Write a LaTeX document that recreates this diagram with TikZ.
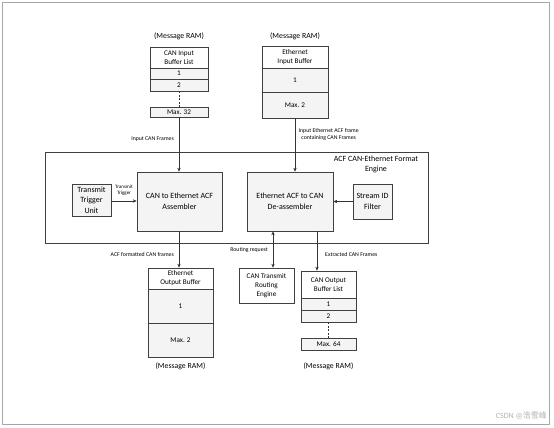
\documentclass[tikz,border=0pt]{standalone}
\usepackage{fontspec}
\setmainfont{Carlito}
\newfontfamily\cjk{Noto Sans CJK SC}
\usetikzlibrary{arrows.meta}
\tikzset{
  bx/.style={draw=black!75, line width=0.6pt, inner sep=0pt, align=center, font=\fontsize{7.2}{9}\selectfont},
  gbx/.style={bx, fill=gray!9},
  wbx/.style={bx, fill=white},
  big/.style={font=\fontsize{8}{10.5}\selectfont},
  lbl/.style={inner sep=0pt, font=\fontsize{5.8}{6.8}\selectfont},
  ram/.style={inner sep=0pt, font=\fontsize{7.8}{9}\selectfont},
  arr/.style={draw=black!80, line width=0.6pt, -{Stealth[length=4pt,width=3.4pt]}},
  darr/.style={draw=black!80, line width=0.6pt, {Stealth[length=4pt,width=3.4pt]}-{Stealth[length=4pt,width=3.4pt]}},
  ln/.style={draw=black!80, line width=0.6pt},
}
\begin{document}
\begin{tikzpicture}[x=1pt,y=-1pt]
\useasboundingbox (0,0) rectangle (554,428);
\draw[gray!70, line width=0.9pt] (2,2) rectangle (549,424);

% CAN Input Buffer List
\node[ram] (ram1) at (179,36) {(Message RAM)};
\node[wbx, minimum width=58, minimum height=21] (cib) at (179,57.5) {CAN Input\\Buffer List};
\node[gbx, minimum width=58, minimum height=11] (cib1) at (179,73.5) {1};
\node[gbx, minimum width=58, minimum height=12] (cib2) at (179,85) {2};
\node[gbx, minimum width=58, minimum height=10] (cibm) at (179,112) {Max. 32};
\draw[ln, dashed, dash pattern=on 2pt off 1.5pt] (cib2.south) -- (cibm.north);

% Ethernet Input Buffer
\node[ram] (ram2) at (295,36) {(Message RAM)};
\node[wbx, minimum width=66, minimum height=22] (eib) at (295,57) {Ethernet\\Input Buffer};
\node[gbx, minimum width=66, minimum height=24] (eib1) at (295,80) {1};
\node[gbx, minimum width=66, minimum height=26] (eibm) at (295,105) {Max. 2};

% Engine
\node[draw=black!75, line width=0.6pt, minimum width=383, minimum height=91, inner sep=0pt] (eng) at (236.5,197.5) {};
\node[inner sep=0pt, align=center, font=\fontsize{8}{10}\selectfont] (engl) at (376,164) {ACF CAN-Ethernet Format\\Engine};

\node[gbx, big, minimum width=85, minimum height=59] (asm) at (179.5,201.5) {CAN to Ethernet ACF\\Assembler};
\node[gbx, big, minimum width=86, minimum height=59] (dasm) at (290,201.5) {Ethernet ACF to CAN\\De-assembler};
\node[gbx, big, minimum width=39, minimum height=32] (trig) at (91.5,200) {Transmit\\Trigger\\Unit};
\node[gbx, big, minimum width=39, minimum height=35] (sid) at (372.5,201.5) {Stream ID\\Filter};

\draw[arr] (trig.east |- 0,201) -- (asm.west |- 0,201);
\node[lbl, align=center, font=\fontsize{5}{6}\selectfont] (tl) at (124,190) {Transmit\\Trigger};
\draw[arr] (sid.west) -- (dasm.east |- sid.west);

\draw[arr] (cibm.south) -- (cibm.south |- asm.north);
\node[lbl, anchor=east] (l1) at (174,139) {Input CAN Frames};
\draw[arr] (eibm.south) -- (eibm.south |- dasm.north);
\node[lbl, align=center, anchor=north west] (l2) at (298.5,128) {Input Ethernet ACF frame\\containing CAN Frames};

% Ethernet Output Buffer
\node[wbx, minimum width=65, minimum height=21] (eob) at (180.5,278.5) {Ethernet\\Output Buffer};
\node[gbx, minimum width=65, minimum height=34] (eob1) at (180.5,306) {1};
\node[gbx, minimum width=65, minimum height=34] (eobm) at (180.5,340) {Max. 2};
\node[ram] (ram3) at (180.5,366) {(Message RAM)};
\draw[arr] (asm.south -| 179,0) -- (eob.north -| 179,0);
\node[lbl, anchor=east] (l3) at (174,255) {ACF formatted CAN frames};

% Routing engine
\node[wbx, minimum width=55, minimum height=35] (rte) at (266.5,285.5) {CAN Transmit\\Routing\\Engine};
\draw[darr] (dasm.south -| 273,0) -- (rte.north -| 273,0);
\node[lbl, anchor=east] (l4) at (268,250) {Routing request};

% CAN Output Buffer List
\node[wbx, minimum width=55, minimum height=27] (cob) at (328.5,284.5) {CAN Output\\Buffer List};
\node[gbx, minimum width=55, minimum height=12] (cob1) at (328.5,304) {1};
\node[gbx, minimum width=55, minimum height=12] (cob2) at (328.5,316) {2};
\node[gbx, minimum width=55, minimum height=12] (cobm) at (328.5,344) {Max. 64};
\draw[ln, dashed, dash pattern=on 2pt off 1.5pt] (cob2.south) -- (cobm.north);
\node[ram] (ram4) at (328.5,366) {(Message RAM)};
\draw[arr] (dasm.south -| 317,0) -- (cob.north -| 317,0);
\node[lbl, anchor=west] (l5) at (325,255) {Extracted CAN Frames};

\node[anchor=east, inner sep=0pt, text=gray!60, font=\fontsize{8}{9}\selectfont] (wm) at (547,416) {CSDN @{\cjk 浩雪峰}};
\end{tikzpicture}
\end{document}
